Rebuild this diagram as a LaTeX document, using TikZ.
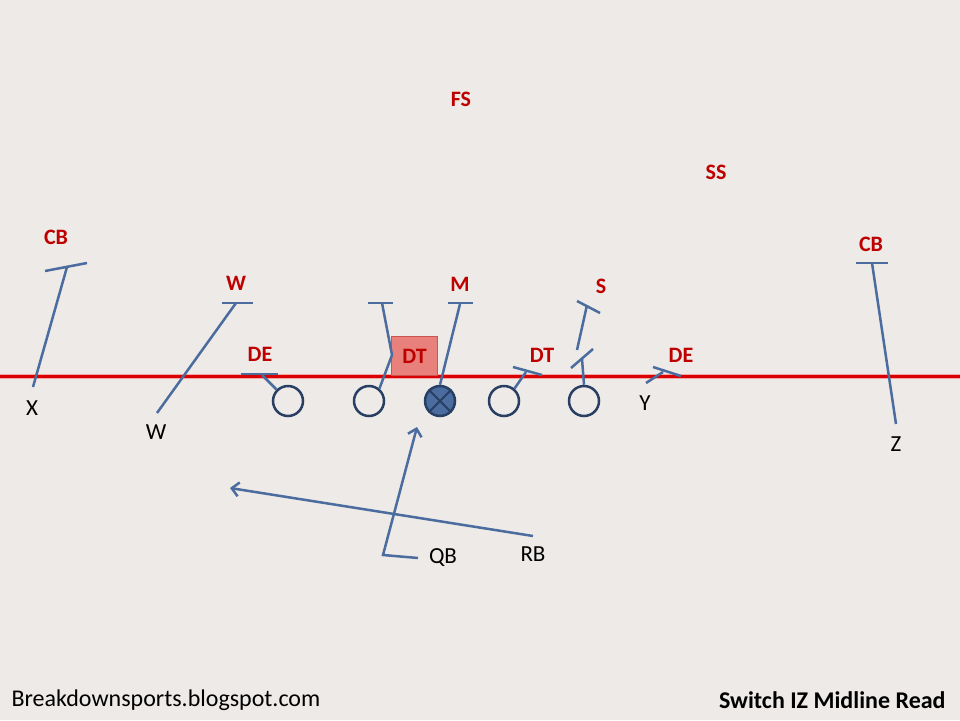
\documentclass[tikz,border=0pt]{standalone}
\usepackage{fontspec}
\setmainfont{Carlito}
\usepackage{tikz}
\usetikzlibrary{arrows.meta}

\definecolor{bgc}{RGB}{237,234,231}
\definecolor{losc}{RGB}{218,0,0}
\definecolor{routec}{RGB}{74,108,158}
\definecolor{olinec}{RGB}{40,62,98}
\definecolor{defc}{RGB}{190,0,0}
\definecolor{dtfill}{RGB}{232,128,124}
\definecolor{dtdraw}{RGB}{205,85,80}

\tikzset{
	dlabel/.style={text=defc, font=\bfseries\fontsize{22}{23}\selectfont},
	olabel/.style={text=black, font=\fontsize{23}{24}\selectfont},
	lineman/.style={circle, draw=olinec, line width=2.5pt, minimum size=30pt, inner sep=0pt},
	route/.style={draw=routec, line width=2.5pt},
	run/.style={route, -{Straight Barb[length=7pt,width=14pt]}},
}

\begin{document}
\begin{tikzpicture}[x=1pt,y=-1pt]
	  \fill[bgc] (0,0) rectangle (960,720);
	  \useasboundingbox (0,0) rectangle (960,720);

	  % line of scrimmage
	  \coordinate (losl) at (0,376);
	  \coordinate (losr) at (960,376);
	  \draw[losc!35, line width=5pt] (losl) -- (losr);
	  \draw[losc, line width=3pt] (losl) -- (losr);

	  % offensive line
	  \node[lineman] (lt) at (288,401) {};
	  \node[lineman] (lg) at (369,401) {};
	  \node[lineman, fill=routec] (c) at (440,401) {};
	  \node[lineman] (rg) at (504,401) {};
	  \node[lineman] (rt) at (584,401) {};
	  \draw[olinec, line width=2pt] (c.45) -- (c.225) (c.135) -- (c.315);

	  \node[draw=dtdraw, fill=dtfill, line width=1.5pt, minimum width=46pt,
	        minimum height=39pt, dlabel] (dtl) at (414.5,356) {DT};

	  % defense
	  \node[dlabel] (fs) at (461,99) {FS};
	  \node[dlabel] (ss) at (716,172) {SS};
	  \node[dlabel] (cbl) at (56,237) {CB};
	  \node[dlabel] (cbr) at (871,244) {CB};
	  \node[dlabel] (wl) at (236,283) {W};
	  \node[dlabel] (ml) at (460,284) {M};
	  \node[dlabel] (sl) at (601,286) {S};
	  \node[dlabel] (del) at (260,354) {DE};
	  \node[dlabel] (dtr) at (542,355) {DT};
	  \node[dlabel] (der) at (681,355) {DE};

	  % offense
	  \node[olabel] (x) at (32,408) {X};
	  \node[olabel] (w) at (156,432) {W};
	  \node[olabel] (y) at (645,403) {Y};
	  \node[olabel] (z) at (896,444) {Z};
	  \node[olabel] (qb) at (443,558) {QB};
	  \node[olabel] (rb) at (533,554) {RB};

	  % block points
	  \coordinate (xs) at (33,387);
	  \coordinate (xb) at (67,267);
	  \coordinate (xb1) at (45,271);
	  \coordinate (xb2) at (87,263);
	  \coordinate (ws) at (157,413);
	  \coordinate (wb) at (236,303);
	  \coordinate (wb1) at (222,303);
	  \coordinate (wb2) at (253,303);
	  \coordinate (ltb) at (262,375);
	  \coordinate (ltb1) at (241,374);
	  \coordinate (ltb2) at (278,374);
	  \coordinate (lgk) at (392,355);
	  \coordinate (lgb) at (382,303);
	  \coordinate (lgb1) at (368,303);
	  \coordinate (lgb2) at (393,303);
	  \coordinate (cb) at (460,304);
	  \coordinate (cb1) at (448,303);
	  \coordinate (cb2) at (473,303);
	  \coordinate (rgb) at (526,372);
	  \coordinate (rgb1) at (513,367);
	  \coordinate (rgb2) at (542,375);
	  \coordinate (rtb) at (582,359);
	  \coordinate (rtb1) at (571,368);
	  \coordinate (rtb2) at (593,349);
	  \coordinate (rts) at (577,350);
	  \coordinate (rtl) at (587,305);
	  \coordinate (rtl1) at (577,301);
	  \coordinate (rtl2) at (600,313);
	  \coordinate (ys) at (646,383);
	  \coordinate (yb) at (663,372);
	  \coordinate (yb1) at (653,367);
	  \coordinate (yb2) at (681,376);
	  \coordinate (zs) at (896,424);
	  \coordinate (zb) at (872,263);
	  \coordinate (zb1) at (856,263);
	  \coordinate (zb2) at (888,263);
	  \coordinate (qbh) at (418,558);
	  \coordinate (qbs) at (383,555);
	  \coordinate (qbe) at (417,427);
	  \coordinate (rbs) at (533,536);
	  \coordinate (rbe) at (230,488);

	  \draw[route] (xs) -- (xb);
	  \draw[route] (xb1) -- (xb2);
	  \draw[route] (ws) -- (wb);
	  \draw[route] (wb1) -- (wb2);
	  \draw[route] (lt.135) -- (ltb);
	  \draw[route] (ltb1) -- (ltb2);
	  \draw[route] (lg.50) -- (lgk) -- (lgb);
	  \draw[route] (lgb1) -- (lgb2);
	  \draw[route] (c.north) -- (cb);
	  \draw[route] (cb1) -- (cb2);
	  \draw[route] (rg.50) -- (rgb);
	  \draw[route] (rgb1) -- (rgb2);
	  \draw[route] (rt.north) -- (rtb);
	  \draw[route] (rtb1) -- (rtb2);
	  \draw[route] (rts) -- (rtl);
	  \draw[route] (rtl1) -- (rtl2);
	  \draw[route] (ys) -- (yb);
	  \draw[route] (yb1) -- (yb2);
	  \draw[route] (zs) -- (zb);
	  \draw[route] (zb1) -- (zb2);

	  % mesh
	  \draw[run] (qbh) -- (qbs) -- (qbe);
	  \draw[run] (rbs) -- (rbe);

	  \node[anchor=west, font=\fontsize{24}{26}\selectfont] (site) at (8,700) {Breakdownsports.blogspot.com};
	  \node[anchor=east, font=\bfseries\fontsize{24}{26}\selectfont] (title) at (949,700) {Switch IZ Midline Read};
\end{tikzpicture}
\end{document}
